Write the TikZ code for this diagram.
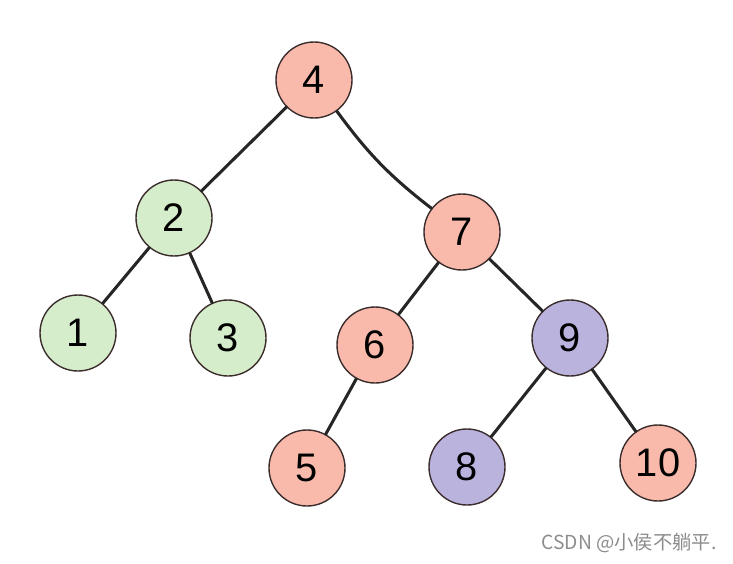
\documentclass[tikz,border=0pt]{standalone}
\usepackage{fontspec}
\setmainfont{Liberation Sans}
\newfontfamily\cjk{Noto Sans CJK SC}
\usepackage{xcolor}
\usetikzlibrary{positioning}

\definecolor{redfill}{RGB}{249,186,172}
\definecolor{greenfill}{RGB}{214,237,204}
\definecolor{purplefill}{RGB}{186,179,222}
\definecolor{rimcol}{RGB}{60,45,45}

\begin{document}
\begin{tikzpicture}[
  x=0.03cm, y=-0.03cm,
  key/.style={circle, draw=rimcol, line width=1.2pt, minimum size=2.28cm,
              inner sep=0pt, font=\fontsize{34}{34}\selectfont},
  rednode/.style={key, fill=redfill},
  grnnode/.style={key, fill=greenfill},
  prpnode/.style={key, fill=purplefill},
  link/.style={line width=2.6pt, black!85, line cap=round},
  wmark/.style={font=\cjk\fontsize{16.5}{16.5}\selectfont, text=black!45}]

  \useasboundingbox (0,0) rectangle (733,563);

  \node[rednode] (n4) at (314,80) {4};
  \node[grnnode] (n2) at (174,218) {2};
  \node[rednode] (n7) at (462,232) {7};
  \node[grnnode] (n1) at (78,333) {1};
  \node[grnnode] (n3) at (228,338) {3};
  \node[rednode] (n6) at (375,345) {6};
  \node[prpnode] (n9) at (570,338) {9};
  \node[rednode] (n5) at (307,468) {5};
  \node[prpnode] (n8) at (467,467) {8};
  \node[rednode] (n10) at (658,463) {10};

  \draw[link] (n4) -- (n2);
  \draw[link] (n4) to[bend right=8] (n7);
  \draw[link] (n2) -- (n1);
  \draw[link] (n2) -- (n3);
  \draw[link] (n7) -- (n6);
  \draw[link] (n7) -- (n9);
  \draw[link] (n6) -- (n5);
  \draw[link] (n9) -- (n8);
  \draw[link] (n9) -- (n10);

  \node[wmark] (wm) at (629,543) {CSDN @小侯不躺平.};
\end{tikzpicture}
\end{document}
